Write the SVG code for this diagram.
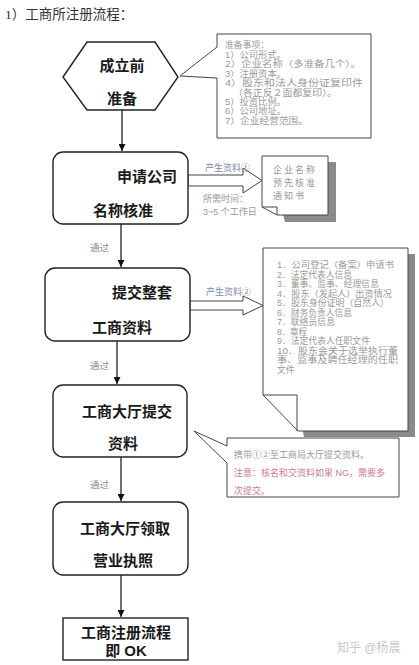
<svg xmlns="http://www.w3.org/2000/svg" width="419" height="665" viewBox="0 0 419 665">
<defs>
<style>
.t{font-family:"Liberation Serif","Noto Sans CJK SC",serif;}
.node{fill:#fff;stroke:#222;stroke-width:1.4;}
.nt{font-family:"Liberation Serif","Noto Sans CJK SC",serif;font-weight:bold;font-size:15px;fill:#1a1a1a;}
.small{font-family:"Liberation Sans","Noto Sans CJK SC",sans-serif;font-size:9px;fill:#999;}
.pass{font-family:"Liberation Sans","Noto Sans CJK SC",sans-serif;font-size:9.5px;fill:#8a8a8a;}
.line{stroke:#222;stroke-width:1.3;fill:none;}
.thin{stroke:#444;stroke-width:1;fill:#fff;}
</style>
<marker id="ah" viewBox="0 0 10 10" refX="10" refY="5" markerWidth="7" markerHeight="7" orient="auto" markerUnits="userSpaceOnUse">
<path d="M0,0 L10,5 L0,10 z" fill="#111"/>
</marker>
</defs>
<rect width="419" height="665" fill="#fff"/>
<text class="t" x="5" y="19" font-size="13.5" fill="#333">1）工商所注册流程：</text>

<g id="connectors">
<line class="line" x1="122" y1="110" x2="122" y2="151" marker-end="url(#ah)"/>
<line class="line" x1="121" y1="224" x2="121" y2="267" marker-end="url(#ah)"/>
<line class="line" x1="117" y1="341" x2="117" y2="384" marker-end="url(#ah)"/>
<line class="line" x1="121" y1="457" x2="121" y2="501" marker-end="url(#ah)"/>
<line class="line" x1="121" y1="575" x2="121" y2="617" marker-end="url(#ah)"/>
<text class="pass" x="90" y="251">通过</text>
<text class="pass" x="90" y="369">通过</text>
<text class="pass" x="90" y="488">通过</text>
<polygon class="thin" points="188,175 243,175 243,168 262,180.5 243,193 243,186 188,186"/>
<polygon class="thin" points="190,301 243,301 243,296 263,305.5 243,315 243,310 190,310"/>
<text class="small" x="205" y="171" style="fill:#7d8aa6">产生资料①</text>
<text class="small" x="203" y="202">所需时间：</text>
<text class="small" x="203" y="215">3~5 个工作日</text>
<text class="small" x="206" y="295" style="fill:#7d8aa6">产生资料②</text>
</g>

<g id="n1">
<polygon class="node" points="63,77 87,42 155,42 178,77 155,110 87,110"/>
<text class="nt" x="122" y="71" text-anchor="middle">成立前</text>
<text class="nt" x="122" y="104" text-anchor="middle">准备</text>
</g>

<g id="c1">
<polygon points="217,34 371,34 371,138 217,138 217,78 180,76 217,47" fill="#fff" stroke="#444" stroke-width="1"/>
<g class="small" style="font-size:8.8px">
<text x="225" y="48">准备事项：</text>
<text x="225" y="58" textLength="61" lengthAdjust="spacingAndGlyphs">1）公司形式。</text>
<text x="225" y="67" textLength="136" lengthAdjust="spacingAndGlyphs">2）企业名称（多准备几个）。</text>
<text x="225" y="77" textLength="61" lengthAdjust="spacingAndGlyphs">3）注册资本。</text>
<text x="225" y="86" textLength="138" lengthAdjust="spacingAndGlyphs">4）股东和法人身份证复印件</text>
<text x="233" y="96" textLength="104" lengthAdjust="spacingAndGlyphs">（各正反２面都复印）。</text>
<text x="225" y="105" textLength="61" lengthAdjust="spacingAndGlyphs">5）投资比例。</text>
<text x="225" y="114" textLength="61" lengthAdjust="spacingAndGlyphs">6）公司地址。</text>
<text x="225" y="124" textLength="83" lengthAdjust="spacingAndGlyphs">7）企业经营范围。</text>
</g>
</g>

<g id="n2">
<rect class="node" x="53" y="152" width="135" height="72" rx="10"/>
<text class="nt" x="117" y="182">申请公司</text>
<text class="nt" x="93" y="216">名称核准</text>
</g>

<g id="d1">
<polygon points="270,162 336,162 336,222 285,222" fill="#8a8a8a"/>
<polygon points="262,156 328,156 328,215 277,215 262,207" fill="#fff" stroke="#444" stroke-width="1"/>
<polyline points="262,207 277,207 277,215" fill="none" stroke="#444" stroke-width="1"/>
<g class="small" style="fill:#999">
<text x="273" y="173" letter-spacing="2">企业名称</text>
<text x="273" y="186" letter-spacing="2">预先核准</text>
<text x="273" y="199" letter-spacing="2">通知书</text>
</g>
</g>

<g id="n3">
<rect class="node" x="45" y="268" width="145" height="73" rx="10"/>
<text class="nt" x="112" y="298">提交整套</text>
<text class="nt" x="92" y="333">工商资料</text>
</g>

<g id="d2">
<polygon points="270,254 415,254 415,437 304,437" fill="#8a8a8a"/>
<polygon points="263,248 408,248 408,431 298,431 263,395" fill="#fff" stroke="#444" stroke-width="1"/>
<polyline points="263,395 297,395 297,431" fill="none" stroke="#444" stroke-width="1"/>
<g class="small" style="font-size:8.8px">
<text x="277" y="268" textLength="117" lengthAdjust="spacingAndGlyphs">1．公司登记（备案）申请书</text>
<text x="277" y="277.5" textLength="75" lengthAdjust="spacingAndGlyphs">2．法定代表人信息</text>
<text x="277" y="287" textLength="102" lengthAdjust="spacingAndGlyphs">3．董事、监事、经理信息</text>
<text x="277" y="296.5" textLength="115" lengthAdjust="spacingAndGlyphs">4．股东（发起人）出资情况</text>
<text x="277" y="306" textLength="112" lengthAdjust="spacingAndGlyphs">5．股东身份证明（自然人）</text>
<text x="277" y="315.5" textLength="75" lengthAdjust="spacingAndGlyphs">6．财务负责人信息</text>
<text x="277" y="325" textLength="58" lengthAdjust="spacingAndGlyphs">7．联络员信息</text>
<text x="277" y="334.5" textLength="30" lengthAdjust="spacingAndGlyphs">8．章程</text>
<text x="277" y="344" textLength="93" lengthAdjust="spacingAndGlyphs">9．法定代表人任职文件</text>
<text x="277" y="353.5" textLength="121" lengthAdjust="spacingAndGlyphs">10．股东会关于选举执行董</text>
<text x="277" y="363" textLength="121" lengthAdjust="spacingAndGlyphs">事、监事及聘任经理的任职</text>
<text x="277" y="372.5">文件</text>
</g>
</g>

<g id="n4">
<rect class="node" x="53" y="385" width="134" height="72" rx="10"/>
<text class="nt" x="82" y="417">工商大厅提交</text>
<text class="nt" x="108" y="449">资料</text>
</g>

<g id="c3">
<polygon points="227,438 399,438 399,497 227,497 227,463 194,431 227,446" fill="#fff" stroke="#444" stroke-width="1"/>
<text class="small" x="234" y="458">携带①②至工商局大厅提交资料。</text>
<text class="small" x="234" y="476" style="fill:#d07a8e">注意：核名和交资料如果 NG，需要多</text>
<text class="small" x="234" y="494" style="fill:#d07a8e">次提交。</text>
</g>

<g id="n5">
<rect class="node" x="53" y="502" width="135" height="73" rx="10"/>
<text class="nt" x="80" y="534">工商大厅领取</text>
<text class="nt" x="93" y="566">营业执照</text>
</g>

<g id="n6">
<rect class="node" x="63" y="618" width="125" height="42"/>
<text class="nt" x="126" y="638" text-anchor="middle" font-size="17">工商注册流程</text>
<text class="nt" x="126" y="656" text-anchor="middle" font-size="17" style="font-family:'Liberation Sans','Noto Sans CJK SC',sans-serif">即 OK</text>
</g>

<text x="337" y="652" font-family="Liberation Sans, Noto Sans CJK SC, sans-serif" font-size="12" fill="#c8c8c8">知乎 @杨晨</text>
</svg>
